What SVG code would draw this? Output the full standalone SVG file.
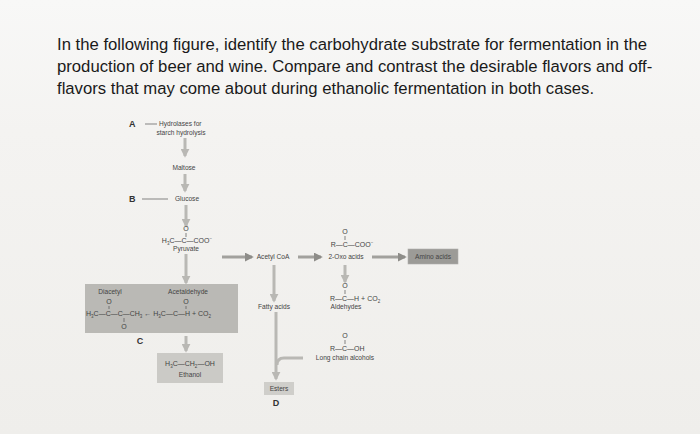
<svg xmlns="http://www.w3.org/2000/svg" width="700" height="434" viewBox="0 0 700 434">
<defs>
<style>
.q{font-family:"Liberation Sans",Arial,sans-serif;font-size:16.7px;fill:#1a1a1a}
.t{font-family:"Liberation Sans",Arial,sans-serif;font-size:6.6px;fill:#444}
.m{font-family:"Liberation Sans",Arial,sans-serif;font-size:7px;fill:#444}
.L{font-family:"Liberation Sans",Arial,sans-serif;font-size:9px;font-weight:bold;fill:#333}
.a{stroke:#b9b8b4;stroke-width:3;fill:none}
.h{stroke:#a2a19d;stroke-width:3;fill:none}
.ln{stroke:#555;stroke-width:0.7;fill:none}
</style>
<linearGradient id="bg" x1="0" y1="0" x2="0" y2="1">
<stop offset="0" stop-color="#f8f8f7"/><stop offset="0.3" stop-color="#f4f3f1"/><stop offset="1" stop-color="#efeeeb"/>
</linearGradient>
<marker id="ah" viewBox="0 0 10 10" refX="8" refY="5" markerWidth="3" markerHeight="3" orient="auto"><path d="M0,0L10,5L0,10z" fill="#b9b8b4"/></marker>
<marker id="ah2" viewBox="0 0 10 10" refX="8" refY="5" markerWidth="3" markerHeight="3" orient="auto"><path d="M0,0L10,5L0,10z" fill="#8e8d89"/></marker>
</defs>
<rect width="700" height="434" fill="url(#bg)"/>
<text class="q" x="57" y="50">In the following figure, identify the carbohydrate substrate for fermentation in the</text>
<text class="q" x="57" y="72">production of beer and wine. Compare and contrast the desirable flavors and off-</text>
<text class="q" x="57" y="94">flavors that may come about during ethanolic fermentation in both cases.</text>

<g id="connectors">
<line class="a" x1="185" y1="138" x2="185" y2="156" marker-end="url(#ah)"/>
<line class="a" x1="185" y1="174" x2="185" y2="191" marker-end="url(#ah)"/>
<line class="a" x1="186" y1="205" x2="186" y2="226" marker-end="url(#ah)"/>
<line class="a" x1="186" y1="254" x2="186" y2="283" marker-end="url(#ah)"/>
<line class="a" x1="186" y1="336" x2="186" y2="351" marker-end="url(#ah)"/>
<line class="h" x1="222" y1="257" x2="252" y2="257" marker-end="url(#ah2)" stroke="#8e8d89"/>
<line class="h" x1="298" y1="257" x2="321" y2="257" marker-end="url(#ah2)" stroke="#8e8d89"/>
<line class="h" x1="372" y1="257" x2="405" y2="257" marker-end="url(#ah2)" stroke="#8e8d89"/>
<line class="a" x1="274" y1="265" x2="274" y2="301" marker-end="url(#ah)"/>
<line class="a" x1="345" y1="265" x2="345" y2="282" marker-end="url(#ah)"/>
<line class="a" x1="276" y1="312" x2="276" y2="379" marker-end="url(#ah)"/>
<path class="a" d="M303,358 H284 Q277,358 277,365"/>
<line class="ln" x1="145" y1="124" x2="157" y2="124"/>
<line class="ln" x1="142" y1="199" x2="168" y2="199"/>
</g>

<g id="A"><text class="L" x="129" y="127">A</text>
<text class="t" x="159" y="126">Hydrolases for</text><text class="t" x="181" y="135" text-anchor="middle">starch hydrolysis</text></g>
<g id="maltose"><text class="t" x="184" y="170" text-anchor="middle">Maltose</text></g>
<g id="B"><text class="L" x="129" y="202">B</text><text class="t" x="187" y="201" text-anchor="middle">Glucose</text></g>
<g id="pyruvate">
<text class="m" x="186" y="231" text-anchor="middle">O</text>
<line class="ln" x1="186" y1="233" x2="186" y2="237"/>
<text class="m" x="187" y="243" text-anchor="middle">H<tspan font-size="4.5" dy="1.5">3</tspan><tspan dy="-1.5">C—C—COO</tspan><tspan font-size="4.5" dy="-3">−</tspan></text>
<text class="t" x="186" y="251" text-anchor="middle">Pyruvate</text></g>
<g id="acetylcoa"><text class="t" x="273" y="259" text-anchor="middle">Acetyl CoA</text></g>
<g id="oxoacids">
<text class="m" x="345" y="234" text-anchor="middle">O</text>
<line class="ln" x1="345" y1="236" x2="345" y2="240"/>
<text class="m" x="352" y="247" text-anchor="middle">R—C—COO<tspan font-size="4.5" dy="-3">−</tspan></text>
<text class="t" x="346" y="259" text-anchor="middle">2-Oxo acids</text></g>
<g id="aminoacids"><rect x="408" y="249" width="50" height="15" fill="#9c9b97" stroke="#b0afab" stroke-width="0.6"/>
<text class="t" x="433" y="259" text-anchor="middle" fill="#333">Amino acids</text></g>
<g id="aldehydes">
<text class="m" x="345" y="288" text-anchor="middle">O</text>
<line class="ln" x1="345" y1="290" x2="345" y2="294"/>
<text class="m" x="330" y="301">R—C—H + CO<tspan font-size="4.5" dy="1.5">2</tspan></text>
<text class="t" x="346" y="309" text-anchor="middle">Aldehydes</text></g>
<g id="alcohols">
<text class="m" x="345" y="338" text-anchor="middle">O</text>
<line class="ln" x1="345" y1="340" x2="345" y2="344"/>
<text class="m" x="330" y="351">R—C—OH</text>
<text class="t" x="345" y="360" text-anchor="middle">Long chain alcohols</text></g>
<g id="fattyacids"><text class="t" x="274" y="309" text-anchor="middle">Fatty acids</text></g>
<g id="esters"><rect x="264" y="382" width="30" height="13" fill="#cfceca"/>
<text class="t" x="279" y="391" text-anchor="middle">Esters</text><text class="L" x="276" y="406" text-anchor="middle">D</text></g>
<g id="C"><rect x="85" y="284" width="153" height="49" fill="#bab9b5"/>
<text class="t" x="110" y="294" text-anchor="middle">Diacetyl</text>
<text class="t" x="188" y="294" text-anchor="middle">Acetaldehyde</text>
<text class="m" x="109" y="304" text-anchor="middle">O</text><line class="ln" x1="109" y1="306" x2="109" y2="309"/>
<text class="m" x="186" y="304" text-anchor="middle">O</text><line class="ln" x1="186" y1="306" x2="186" y2="309"/>
<text class="m" x="86" y="316">H<tspan font-size="4.5" dy="1.5">3</tspan><tspan dy="-1.5">C—C—C—CH</tspan><tspan font-size="4.5" dy="1.5">3</tspan><tspan dy="-1.5"> ← H</tspan><tspan font-size="4.5" dy="1.5">3</tspan><tspan dy="-1.5">C—C—H + CO</tspan><tspan font-size="4.5" dy="1.5">2</tspan></text>
<line class="ln" x1="124" y1="318" x2="124" y2="322"/>
<text class="m" x="124" y="329" text-anchor="middle">O</text>
<text class="L" x="140" y="344" text-anchor="middle">C</text></g>
<g id="ethanol"><rect x="157" y="353" width="66" height="30" fill="#cbcac6"/>
<text class="m" x="190" y="366" text-anchor="middle">H<tspan font-size="4.5" dy="1.5">3</tspan><tspan dy="-1.5">C—CH</tspan><tspan font-size="4.5" dy="1.5">2</tspan><tspan dy="-1.5">—OH</tspan></text>
<text class="t" x="190" y="377" text-anchor="middle">Ethanol</text></g>
</svg>
